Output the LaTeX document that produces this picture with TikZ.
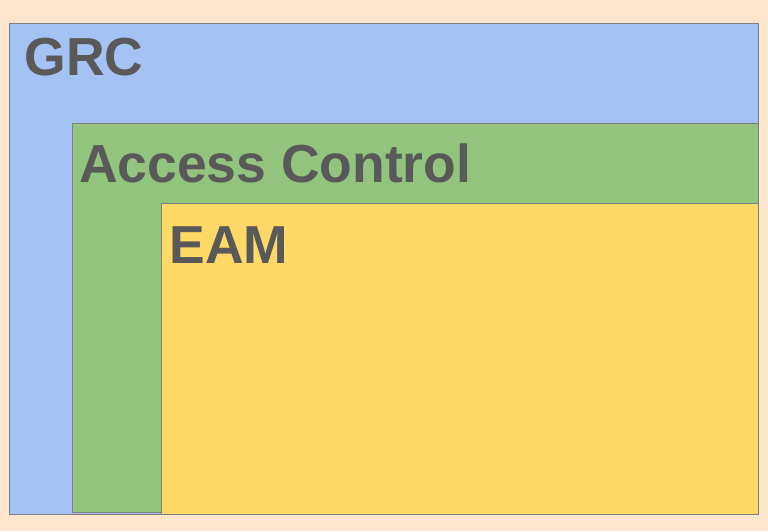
\documentclass[tikz,border=0pt]{standalone}
\usepackage{fontspec}
\setmainfont{Liberation Sans}
\definecolor{bgpeach}{HTML}{FDE5CE}
\definecolor{grcblue}{HTML}{A4C2F4}
\definecolor{acgreen}{HTML}{93C47D}
\definecolor{eamyellow}{HTML}{FFD966}
\definecolor{edgegray}{HTML}{7F7F7F}
\definecolor{labelgray}{HTML}{595959}
\tikzset{
  panel/.style={draw=edgegray, line width=0.8pt, anchor=north west, inner sep=0pt, outer sep=0pt},
  title/.style={anchor=base west, inner sep=0pt, outer sep=0pt, text=labelgray, font=\fontsize{53.5}{60}\selectfont\bfseries}
}
\begin{document}
\begin{tikzpicture}[x=1pt,y=-1pt]
\fill[bgpeach] (0,0) rectangle (768,531);
\useasboundingbox (0,0) rectangle (768,531);
\node[panel, fill=grcblue, minimum width=749pt, minimum height=491pt] (grc) at (9,23) {};
\node[panel, fill=acgreen, minimum width=686pt, minimum height=389pt] (ac) at (72,123) {};
\node[panel, fill=eamyellow, minimum width=597pt, minimum height=311pt] (eam) at (161,203) {};
\node[title] (grct) at (24.5,75) {GRC};
\node[title] (act) at (79,182) {Access Control};
\node[title] (eamt) at (169.5,263) {EAM};
\end{tikzpicture}
\end{document}
